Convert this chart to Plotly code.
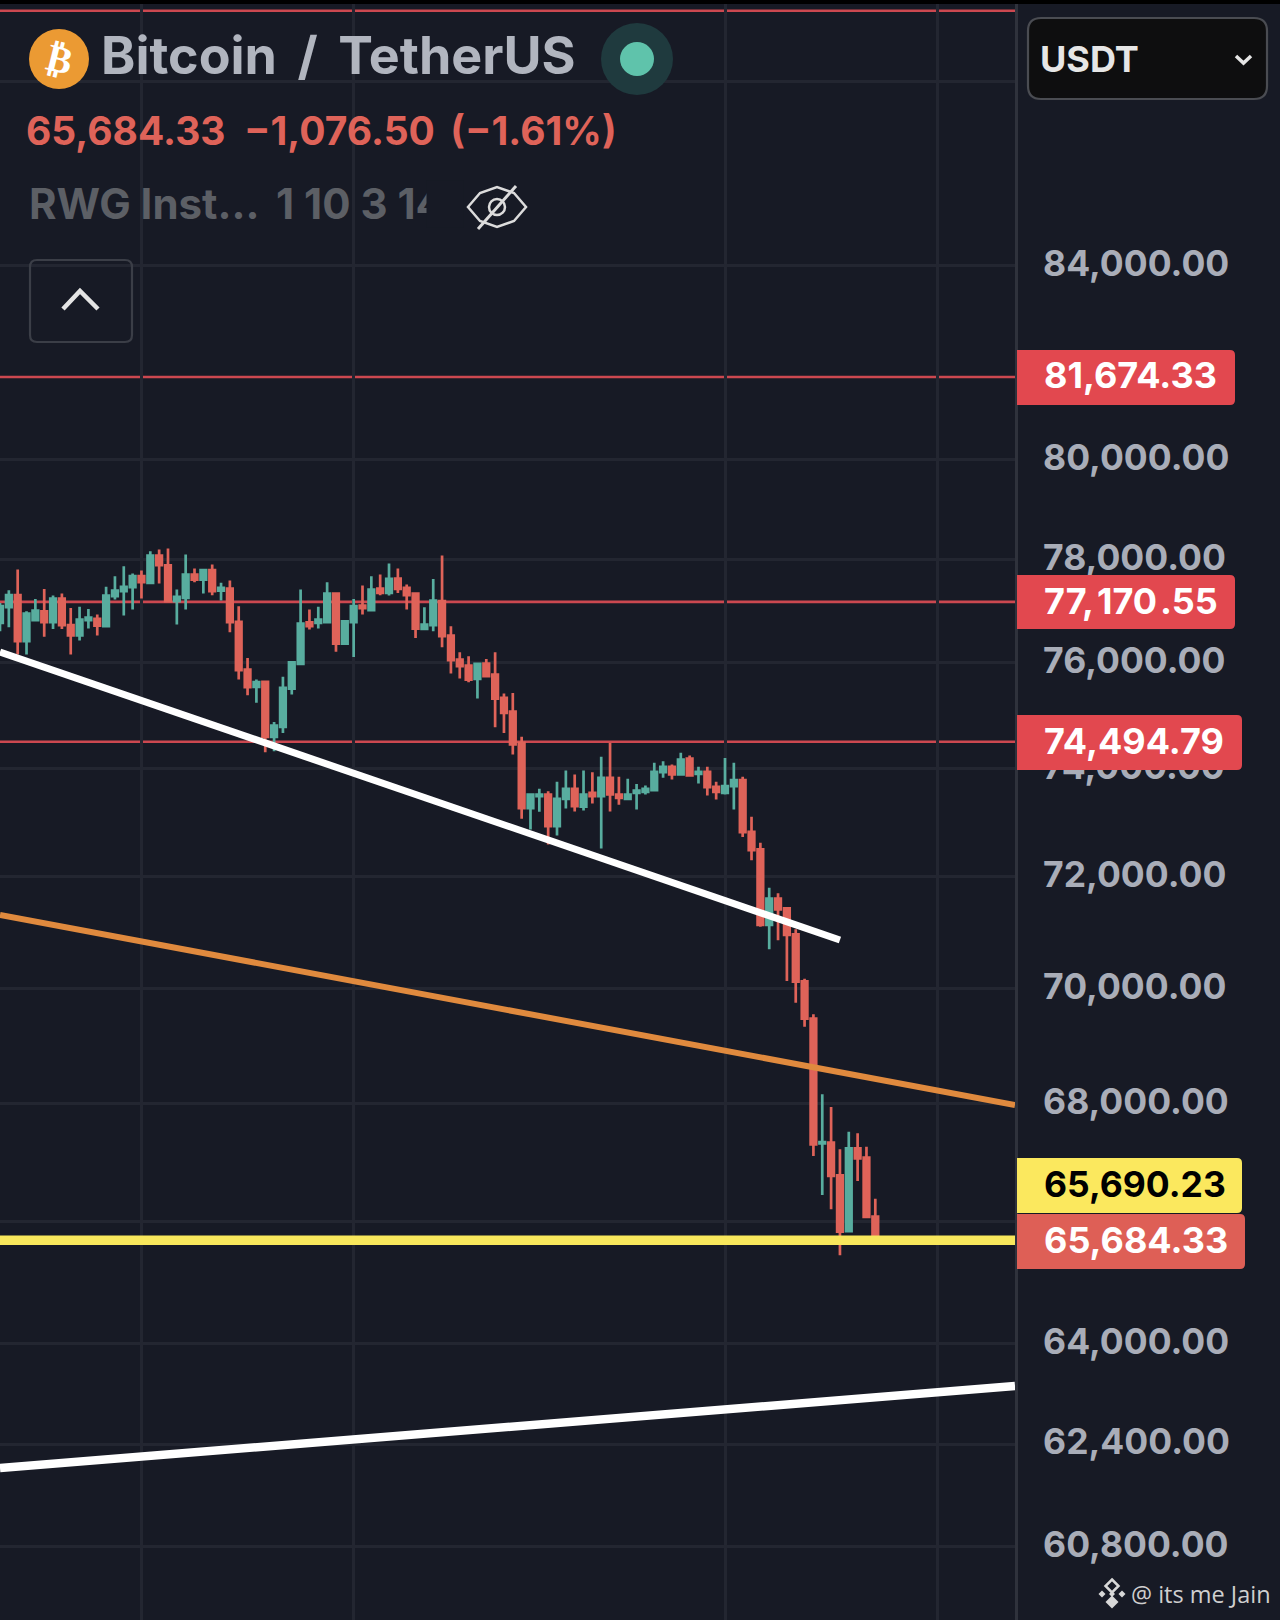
import math
import plotly.graph_objects as go

# ---- data ----
candle_index = list(range(100))
opens = [76762,77066,77300,76408,76814,76988,76775,77235,76717,76518,76814,76840,76698,77280,77378,77456,77672,77541,78077,77887,
         77183,77248,77704,77606,77790,77391,77430,76781,75864,75533,75628,74587,74774,75501,75972,76775,76762,76775,77332,76363,
         76775,77099,77008,77430,77345,77626,77443,77332,76646,76717,77183,76518,76055,75940,75686,75978,75769,75324,75064,74474,
         73258,73479,73510,72926,73430,73615,73283,73541,73479,73820,73510,73430,73541,73560,73590,73925,74024,73882,74180,73894,
         73931,73652,73541,73664,73776,72821,72499,71129,71603,71429,70962,70126,69468,67318,67329,66776,65844,67233,67074,66084]
highs = [77150,77397,77803,76988,77228,77423,77293,77332,77053,77073,77034,76924,77463,77672,77867,77724,77782,78163,78196,78215,
         77410,78097,77822,77816,77900,77541,77587,77086,76087,75673,75654,74869,75724,76010,77410,77021,77073,77554,77332,76814,
         77228,77489,77672,77704,77920,77822,77508,77345,77066,77619,78077,76698,76196,76119,75978,76068,76196,75406,75418,74587,
         73510,73615,73572,73745,73957,73882,73957,73925,74211,74474,73838,73801,73707,73676,74099,74130,74067,74286,74236,74024,
         74024,73745,74192,74099,73838,73098,72621,71802,71699,71429,71051,70173,69544,68154,67937,67216,67515,67487,67261,66384]
lows = [76600,76678,76151,76151,76814,76492,76646,76646,76151,76421,76652,76518,76698,77216,76905,77021,77235,77528,77528,77164,
        76730,77021,77554,77332,77300,77196,76581,75673,75374,75229,74299,74317,74661,75387,75959,76633,76652,76762,76203,76363,
        76106,76924,77008,77300,77293,77345,77021,76472,76620,76600,76293,75787,75692,75622,75311,75737,74768,74661,74255,73060,
        72864,73190,72590,72755,73252,73196,73215,73344,72517,73196,73319,73430,73233,73510,73590,73820,73789,73882,73851,73714,
        73491,73417,73510,73233,72725,72300,71099,70694,70855,70131,69749,69328,67103,66445,66206,65442,65844,66681,66078,65684.33]
closes = [77086,77300,76408,76943,77001,76775,77235,76717,76518,76827,76866,76711,77293,77391,77463,77672,77554,78077,77887,77183,
          77267,77704,77606,77790,77378,77443,76775,75851,75526,75622,74587,74800,75513,76004,76749,76698,76827,77332,76363,76794,
          77086,77047,77410,77345,77619,77423,77300,76652,76730,77196,76505,76042,75927,75673,75972,75737,75311,75039,74443,73258,
          73510,73510,72926,73430,73615,73295,73510,73479,73820,73510,73448,73510,73584,73615,73931,74024,73882,74161,73863,73931,
          73646,73560,73664,73776,72815,72487,71129,71603,71411,70950,70120,69468,67301,67340,66765,65833,67233,67063,66078,65684.33]

tick_values = [88000,84000,80000,78000,76000,74000,72000,70000,68000,66000,64000,62400,60800]
tick_labels = ["","84,000.00","80,000.00","78,000.00","76,000.00","74,000.00","72,000.00","70,000.00","68,000.00","","64,000.00","62,400.00","60,800.00"]
time_grid = [16, 40, 82, 106]

red_levels = [89580, 81674.33, 77170.55, 74494.79]
yellow_level = [65690.23]

white_line_1_x = [0, 95]
white_line_1_y = [76201, 70861]
orange_line_x = [0, 114.8]
orange_line_y = [71309, 67971]
white_line_2_x = [0, 114.8]
white_line_2_y = [62024, 63320]

price_range = [59690, 89824]
index_range = [0, 114.8]

# ---- styles ----
BG = "#171a25"
GRID = "#232631"
RED = "#df6359"
GREEN = "#58ad9f"
W, H, AX = 1280, 1620, 1015
FONT = "Inter"
NB = "\u00a0"
TH = "\u2009"
HAIR = "\u200a"

def X(p): return p / AX
def Y(p): return 1 - p / H

fig = go.Figure()

fig.add_trace(go.Candlestick(
    x=candle_index, open=opens, high=highs, low=lows, close=closes,
    increasing=dict(line=dict(color=GREEN, width=2.7), fillcolor=GREEN),
    decreasing=dict(line=dict(color=RED, width=2.7), fillcolor=RED),
    whiskerwidth=0, showlegend=False, hoverinfo="skip"))

def line_trace(x, y, color, width):
    fig.add_trace(go.Scatter(x=x, y=y, mode="lines", showlegend=False, hoverinfo="skip",
                             line=dict(color=color, width=width)))

line_trace(orange_line_x, orange_line_y, "#e08a3e", 6)
line_trace(white_line_2_x, white_line_2_y, "#ffffff", 8.5)
line_trace(white_line_1_x, white_line_1_y, "#ffffff", 7)

shapes = []
for v in red_levels:
    shapes.append(dict(type="line", xref="paper", x0=0, x1=1, yref="y", y0=v, y1=v, layer="below",
                       line=dict(color="#cc4850", width=2.6)))
for v in yellow_level:
    shapes.append(dict(type="line", xref="paper", x0=0, x1=1, yref="y", y0=v, y1=v, layer="above",
                       line=dict(color="#f8e75c", width=9.5)))

def path_shape(points, close=False, color=None, width=2, fill=None):
    d = "M " + " L ".join(f"{X(a):.5f},{Y(b):.5f}" for a, b in points)
    if close:
        d += " Z"
    return dict(type="path", xref="paper", yref="paper", path=d, layer="above",
                line=dict(color=color or "rgba(0,0,0,0)", width=width),
                fillcolor=fill or "rgba(0,0,0,0)")

def round_rect(x0, y0, x1, y1, r, fill, color=None, width=0, rl=True):
    """rounded rectangle in pixels (rl False: square left corners)"""
    a, b, c, e = X(x0), Y(y0), X(x1), Y(y1)
    rx, ry = r / AX, r / H
    if rl:
        d = (f"M {a+rx:.5f},{b:.5f} L {c-rx:.5f},{b:.5f} Q {c:.5f},{b:.5f} {c:.5f},{b-ry:.5f} "
             f"L {c:.5f},{e+ry:.5f} Q {c:.5f},{e:.5f} {c-rx:.5f},{e:.5f} L {a+rx:.5f},{e:.5f} "
             f"Q {a:.5f},{e:.5f} {a:.5f},{e+ry:.5f} L {a:.5f},{b-ry:.5f} Q {a:.5f},{b:.5f} {a+rx:.5f},{b:.5f} Z")
    else:
        d = (f"M {a:.5f},{b:.5f} L {c-rx:.5f},{b:.5f} Q {c:.5f},{b:.5f} {c:.5f},{b-ry:.5f} "
             f"L {c:.5f},{e+ry:.5f} Q {c:.5f},{e:.5f} {c-rx:.5f},{e:.5f} L {a:.5f},{e:.5f} Z")
    return dict(type="path", xref="paper", yref="paper", path=d, layer="above", fillcolor=fill,
                line=dict(color=color or "rgba(0,0,0,0)", width=width))

def circle(cx, cy, r, fill=None, color=None, width=0):
    return dict(type="circle", xref="paper", yref="paper", layer="above",
                x0=X(cx - r), x1=X(cx + r), y0=Y(cy + r), y1=Y(cy - r),
                fillcolor=fill or "rgba(0,0,0,0)", line=dict(color=color or "rgba(0,0,0,0)", width=width))

# top strip
shapes.append(dict(type="rect", xref="paper", yref="paper", x0=0, x1=W / AX, y0=Y(4), y1=1, layer="above",
                   fillcolor="#000000", line=dict(width=0)))
# header marks
shapes += [circle(59, 59, 30, fill="#eb9a33"), circle(637, 59, 36, fill="#1f3a3e"), circle(637, 59, 17, fill="#5fc3ab")]
# eye-off icon
eye = [(468, 207), (480, 193), (497, 187), (514, 193), (526, 207), (514, 221), (497, 227), (480, 221)]
shapes.append(path_shape(eye, close=True, color="#dcdcdc", width=2.5))
shapes.append(circle(497, 207, 8, color="#dcdcdc", width=2.5))
shapes.append(path_shape([(478, 229), (516, 186)], color="#dcdcdc", width=3))
# collapse button
shapes.append(round_rect(30, 260, 132, 342, 7, "rgba(0,0,0,0)", color="#3b3e47", width=2.2))
shapes.append(path_shape([(63, 309), (80, 291), (98, 309)], color="#e4e4e4", width=4.5))
# USDT selector
shapes.append(round_rect(1028, 18, 1267, 99, 13, "#0e0e0f", color="#4a4c52", width=2.2))
shapes.append(path_shape([(1236, 56), (1243.5, 63), (1251, 56)], color="#e6e6e6", width=3.5))
# price tags
shapes.append(round_rect(1017, 350, 1235, 405, 5, "#e2484f", rl=False))
shapes.append(round_rect(1017, 575, 1235, 629, 5, "#e2484f", rl=False))
shapes.append(round_rect(1017, 715, 1242, 770, 5, "#e2484f", rl=False))
shapes.append(round_rect(1017, 1158, 1242, 1213, 5, "#fbe85e", rl=False))
shapes.append(round_rect(1017, 1214, 1245, 1269, 5, "#de5f56", rl=False))
# watermark mark
def diamond(cx, cy, r, **kw):
    return path_shape([(cx, cy - r), (cx + r, cy), (cx, cy + r), (cx - r, cy)], close=True, **kw)
shapes += [diamond(1112, 1586, 6.5, color="#d8d8d8", width=2.5), diamond(1112, 1602, 6.5, fill="#d8d8d8"),
           diamond(1102, 1594, 3.5, fill="#d8d8d8"), diamond(1122, 1594, 3.5, fill="#d8d8d8"),
           diamond(1112, 1594, 3, fill="#d8d8d8")]

def text(px, py, s, size, color, weight=700, family=FONT, anchor="left", **kw):
    return dict(xref="paper", yref="paper", x=X(px), y=Y(py), text=s, showarrow=False,
                xanchor=anchor, yanchor="middle", align="left",
                font=dict(family=family, size=size, color=color, weight=weight), **kw)

annotations = [
    text(59, 59, "₿", 38, "#ffffff", family="DejaVu Sans", anchor="center", textangle=14),
    text(99, 56, f"Bitcoin{NB}{TH}/{NB}{TH}TetherUS", 52, "#b1b5bf"),
    text(24, 131, f"65,684.33{NB}{NB}−1,076.50{NB}{TH}(−1.61%)", 39, "#df6359"),
    text(27, 204, "RWG Inst...", 42, "#5c5f65"),
    text(274, 204, f"1{NB}10{NB}3{NB}14", 42, "#5c5f65"),
    dict(xref="paper", yref="paper", x=X(426), y=Y(204), xanchor="left", yanchor="middle", text=" ",
         showarrow=False, width=34, height=44, bgcolor=BG),
    text(1038, 59, "USDT", 36, "#e6e6e6"),
    text(1042, 375, "81,674.33", 36, "#ffffff"),
    text(1042, 601, f"77,{HAIR}170{HAIR}.55", 36, "#ffffff"),
    text(1042, 741, "74,494.79", 36, "#ffffff"),
    text(1042, 1184, "65,690.23", 35.5, "#000000"),
    text(1042, 1240, "65,684.33", 36, "#ffffff"),
    text(1129, 1594, "@ its me Jain", 23.5, "#cfcfcf", weight=400, family="Open Sans"),
]

fig.update_layout(
    width=W, height=H, margin=dict(l=0, r=W - AX, t=0, b=0),
    paper_bgcolor=BG, plot_bgcolor=BG, showlegend=False, boxgap=0.1,
    shapes=shapes, annotations=annotations,
    xaxis=dict(range=index_range, tickmode="array", tickvals=time_grid, showticklabels=False,
               showgrid=True, gridcolor=GRID, gridwidth=2.5, zeroline=False, showline=False, ticks="",
               rangeslider=dict(visible=False), fixedrange=True),
    yaxis=dict(type="log", range=[math.log10(price_range[0]), math.log10(price_range[1])], side="right",
               tickmode="array", tickvals=tick_values, ticktext=tick_labels,
               showgrid=True, gridcolor=GRID, gridwidth=2.5, zeroline=False,
               showline=True, linecolor="#2f323c", linewidth=3,
               ticks="outside", ticklen=18, tickcolor="rgba(0,0,0,0)", ticklabelshift=-2,
               tickfont=dict(family=FONT, size=35.5, color="#a9adb8", weight=700), fixedrange=True),
)

fig.write_html("out.html", config={"displayModeBar": False},
               post_script=f"document.body.style.margin='0';document.body.style.background='{BG}';")
